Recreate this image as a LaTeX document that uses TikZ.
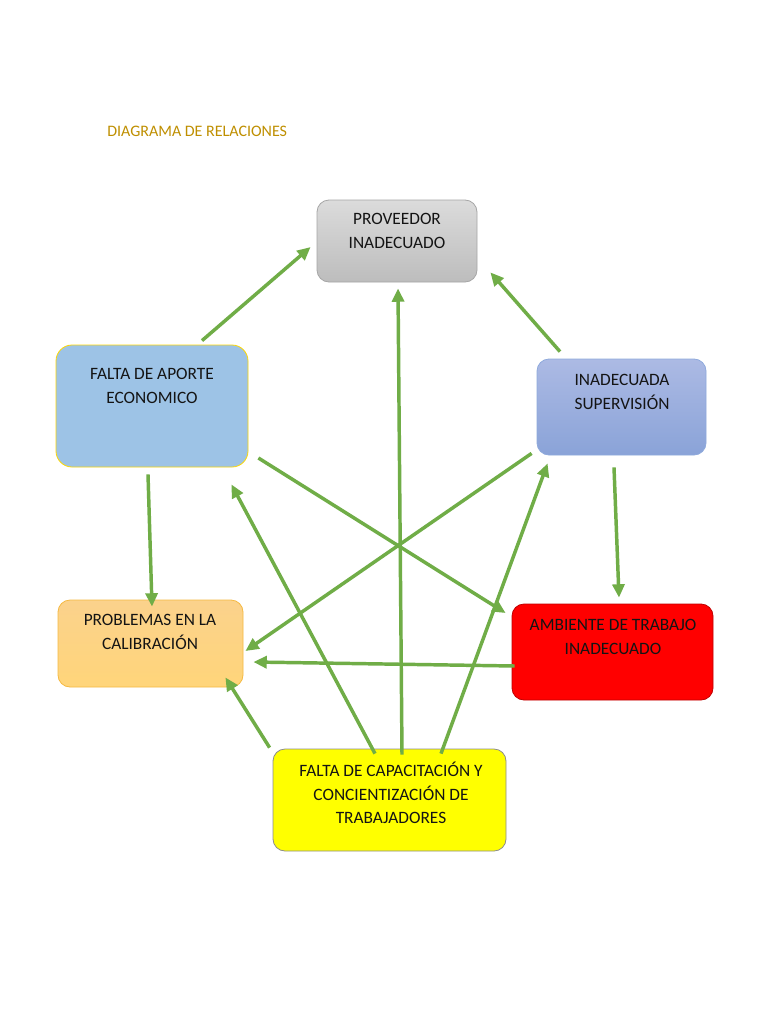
\documentclass[tikz,border=0pt]{standalone}
\usepackage{fontspec}
\setmainfont{Carlito}
\usetikzlibrary{arrows.meta,calc}

\definecolor{linkgreen}{HTML}{70AD47}
\definecolor{titlegold}{HTML}{BF8F00}
\definecolor{capacyellow}{HTML}{FFFF00}
\definecolor{ambientered}{HTML}{FF0000}

\begin{document}
\begin{tikzpicture}[x=0.75pt,y=-0.75pt,
	box/.style={rounded corners=9pt, draw, line width=0.6pt, inner sep=0pt},
	boxtext/.style={align=center, anchor=base, inner sep=0pt, font=\fontsize{13}{17.6}\selectfont, text=black!92},
	link/.style={draw=linkgreen, line width=2.6pt, -{Triangle[length=10pt,width=9pt]}}]

	% Page
	\fill[white] (0,0) rectangle (768,1024);
	\useasboundingbox (0,0) rectangle (768,1024);

	% Title
	\node[anchor=base west, inner sep=0pt, text=titlegold, font=\fontsize{12}{14}\selectfont] (title) at (107,136) {DIAGRAMA DE RELACIONES};

	% Boxes
	\node[box, draw=black!35, top color=black!14, bottom color=black!26, minimum width=120pt, minimum height=61.5pt] (prov) at (397,241) {};
	\node[box, rounded corners=12pt, draw=yellow!75!orange, fill={rgb,255:red,157;green,195;blue,230}, minimum width=144pt, minimum height=91.5pt] (aporte) at (152,406) {};
	\node[box, draw={rgb,255:red,143;green,170;blue,220}, top color={rgb,255:red,172;green,186;blue,228}, bottom color={rgb,255:red,138;green,163;blue,216}, minimum width=126.75pt, minimum height=72pt] (superv) at (621.5,407) {};
	\node[box, draw={rgb,255:red,245;green,185;blue,66}, top color={rgb,255:red,251;green,210;blue,140}, bottom color={rgb,255:red,255;green,213;blue,122}, minimum width=138.75pt, minimum height=65.25pt] (probl) at (150.5,643.5) {};
	\node[box, draw=ambientered!75!black, fill=ambientered, minimum width=150.75pt, minimum height=72pt] (ambiente) at (612.5,652) {};
	\node[box, draw=black!45, fill=capacyellow, minimum width=174.75pt, minimum height=76.5pt] (capac) at (389.5,800) {};

	% Texts
	\node[boxtext] (provtext) at (397,248.1) {PROVEEDOR\\INADECUADO};
	\node[boxtext] (aportetext) at (152,403.1) {FALTA DE APORTE\\ECONOMICO};
	\node[boxtext] (supervtext) at (622,409.1) {INADECUADA\\SUPERVISIÓN};
	\node[boxtext] (probltext) at (150,649.1) {PROBLEMAS EN LA\\CALIBRACIÓN};
	\node[boxtext] (ambientetext) at (613,654.1) {AMBIENTE DE TRABAJO\\INADECUADO};
	\node[boxtext] (capactext) at (391,823.6) {FALTA DE CAPACITACIÓN Y\\CONCIENTIZACIÓN DE\\TRABAJADORES};

	% Relations
	\draw[link] ($(aporte.north)+(50,-4)$) -- ($(prov.west)+(-6,6)$);
	\draw[link] ($(superv.north)+(-61.5,-7)$) -- ($(prov.south east)+(13,-10)$);
	\draw[link] ($(capac.north)+(12.5,6)$) -- ($(prov.south)+(1,6)$);
	\draw[link] ($(aporte.south)+(-4,7)$) -- ($(probl.north)+(1.5,7)$);
	\draw[link] ($(aporte.east)+(10,52)$) -- ($(ambiente.west)+(-6,-39)$);
	\draw[link] ($(superv.south west)+(-5,-2)$) -- ($(probl.east)+(2,7.5)$);
	\draw[link] ($(superv.south)+(-7.5,12)$) -- ($(ambiente.north)+(6.5,-6)$);
	\draw[link] ($(ambiente.west)+(3,14)$) -- ($(probl.east)+(10,18.5)$);
	\draw[link] ($(capac.north west)+(-3,-1)$) -- ($(probl.south east)+(-18,-10)$);
	\draw[link] ($(capac.north)+(-14.5,5)$) -- ($(aporte.south east)+(-17,17)$);
	\draw[link] ($(capac.north)+(51.5,5)$) -- ($(superv.south west)+(11,8)$);

\end{tikzpicture}
\end{document}
